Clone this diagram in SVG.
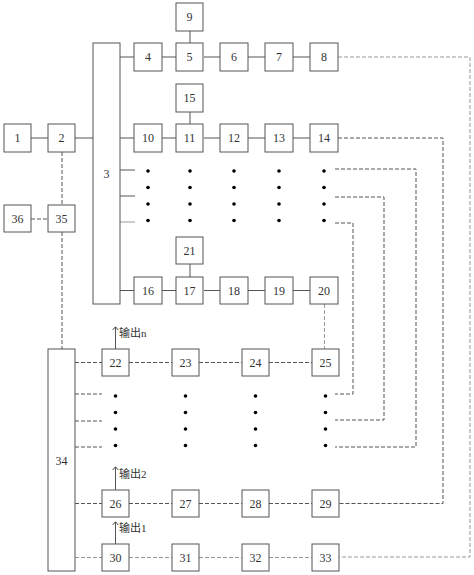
<svg xmlns="http://www.w3.org/2000/svg" width="474" height="575" viewBox="0 0 474 575">
<style>
.b{fill:#fff;stroke:#555;stroke-width:1}
.t{font-family:"Liberation Serif","Noto Sans CJK SC",serif;font-size:12px;fill:#333;text-anchor:middle;dominant-baseline:central}
.o{font-family:"Liberation Serif","Noto Sans CJK SC",serif;font-size:11px;fill:#333}
.s{stroke:#555;stroke-width:1;fill:none}
.d{stroke:#555;stroke-width:1;fill:none;stroke-dasharray:4 2}
.dl{stroke:#999;stroke-width:1;fill:none;stroke-dasharray:4 2}
.dot{fill:#000}
</style>
<defs>
<marker id="ah" viewBox="0 0 8 8" refX="4" refY="1" markerWidth="8" markerHeight="8" orient="0" markerUnits="userSpaceOnUse">
<path d="M1.2,4 L4,0.8 L6.8,4" fill="none" stroke="#444" stroke-width="1"/>
</marker>
</defs>
<rect width="474" height="575" fill="#fff"/>
<g id="connectors">
<path class="s" d="M31,138H48M75,138H93M120,57H134M162,57H176M204,57H220M248,57H265M293,57H310M190,31V43"/>
<path class="s" d="M120,138H134M162,138H176M204,138H220M248,138H265M293,138H310M190,112V124"/>
<path class="s" d="M120,290.5H134M162,290.5H176M204,290.5H220M248,290.5H265M293,290.5H310M190,264V277"/>
<path class="s" d="M120,170H135M120,196H135"/>
<path class="s" d="M120,222H135" style="stroke:#999"/>
<path class="d" d="M62,152V205M62,232V349"/>
<path class="d" d="M31,219H48"/>
<path class="dl" d="M338,57H470V557H339"/>
<path class="d" d="M338,138H443V503.5H339"/>
<path class="d" d="M335,169H416V447H335"/>
<path class="d" d="M335,197H384V420H335"/>
<path class="d" d="M335,223H353V394H335"/>
<path class="dl" d="M324.5,304V349"/>
<path class="d" d="M75,362.5H102M129,362.5H172M199,362.5H242M269,362.5H312"/>
<path class="d" d="M75,394H102M75,421H102M75,447H102"/>
<path class="d" d="M75,503.5H102M129,503.5H172M199,503.5H242M269,503.5H312"/>
<path class="dl" d="M75,557.5H102M129,557.5H172M199,557.5H242M269,557.5H312"/>
<path class="s" marker-end="url(#ah)" d="M115.5,349V327"/>
<path class="s" marker-end="url(#ah)" d="M115.5,490V467"/>
<path class="s" marker-end="url(#ah)" d="M115.5,544V522"/>
</g>
<g id="dots">
<g class="dot">
<circle cx="148" cy="171" r="1.8"/><circle cx="190" cy="171" r="1.8"/><circle cx="234" cy="171" r="1.8"/><circle cx="279" cy="171" r="1.8"/><circle cx="324" cy="171" r="1.8"/>
<circle cx="148" cy="187.5" r="1.8"/><circle cx="190" cy="187.5" r="1.8"/><circle cx="234" cy="187.5" r="1.8"/><circle cx="279" cy="187.5" r="1.8"/><circle cx="324" cy="187.5" r="1.8"/>
<circle cx="148" cy="204" r="1.8"/><circle cx="190" cy="204" r="1.8"/><circle cx="234" cy="204" r="1.8"/><circle cx="279" cy="204" r="1.8"/><circle cx="324" cy="204" r="1.8"/>
<circle cx="148" cy="220.5" r="1.8"/><circle cx="190" cy="220.5" r="1.8"/><circle cx="234" cy="220.5" r="1.8"/><circle cx="279" cy="220.5" r="1.8"/><circle cx="324" cy="220.5" r="1.8"/>
<circle cx="115.5" cy="396" r="1.8"/><circle cx="185.5" cy="396" r="1.8"/><circle cx="255.5" cy="396" r="1.8"/><circle cx="325.5" cy="396" r="1.8"/>
<circle cx="115.5" cy="412.5" r="1.8"/><circle cx="185.5" cy="412.5" r="1.8"/><circle cx="255.5" cy="412.5" r="1.8"/><circle cx="325.5" cy="412.5" r="1.8"/>
<circle cx="115.5" cy="429" r="1.8"/><circle cx="185.5" cy="429" r="1.8"/><circle cx="255.5" cy="429" r="1.8"/><circle cx="325.5" cy="429" r="1.8"/>
<circle cx="115.5" cy="445.5" r="1.8"/><circle cx="185.5" cy="445.5" r="1.8"/><circle cx="255.5" cy="445.5" r="1.8"/><circle cx="325.5" cy="445.5" r="1.8"/>
</g>
</g>
<g id="n1"><rect class="b" x="4" y="124" width="27" height="28"/><text class="t" x="17.5" y="138">1</text></g>
<g id="n2"><rect class="b" x="48" y="124" width="27" height="28"/><text class="t" x="61.5" y="138">2</text></g>
<g id="n3"><rect class="b" x="93" y="43" width="27" height="261"/><text class="t" x="106.5" y="174">3</text></g>
<g id="n4"><rect class="b" x="134" y="43" width="28" height="28"/><text class="t" x="148" y="57">4</text></g>
<g id="n5"><rect class="b" x="176" y="43" width="27" height="28"/><text class="t" x="189.5" y="57">5</text></g>
<g id="n6"><rect class="b" x="220" y="43" width="28" height="28"/><text class="t" x="234" y="57">6</text></g>
<g id="n7"><rect class="b" x="265" y="43" width="28" height="28"/><text class="t" x="279" y="57">7</text></g>
<g id="n8"><rect class="b" x="310" y="43" width="28" height="28"/><text class="t" x="324" y="57">8</text></g>
<g id="n9"><rect class="b" x="176" y="3" width="27" height="28"/><text class="t" x="189.5" y="17">9</text></g>
<g id="n10"><rect class="b" x="134" y="124" width="28" height="28"/><text class="t" x="148" y="138">10</text></g>
<g id="n11"><rect class="b" x="176" y="124" width="27" height="28"/><text class="t" x="189.5" y="138">11</text></g>
<g id="n12"><rect class="b" x="220" y="124" width="28" height="28"/><text class="t" x="234" y="138">12</text></g>
<g id="n13"><rect class="b" x="265" y="124" width="28" height="28"/><text class="t" x="279" y="138">13</text></g>
<g id="n14"><rect class="b" x="310" y="124" width="28" height="28"/><text class="t" x="324" y="138">14</text></g>
<g id="n15"><rect class="b" x="176" y="84" width="27" height="28"/><text class="t" x="189.5" y="98">15</text></g>
<g id="n16"><rect class="b" x="134" y="277" width="28" height="27"/><text class="t" x="148" y="290.5">16</text></g>
<g id="n17"><rect class="b" x="176" y="277" width="27" height="27"/><text class="t" x="189.5" y="290.5">17</text></g>
<g id="n18"><rect class="b" x="220" y="277" width="28" height="27"/><text class="t" x="234" y="290.5">18</text></g>
<g id="n19"><rect class="b" x="265" y="277" width="28" height="27"/><text class="t" x="279" y="290.5">19</text></g>
<g id="n20"><rect class="b" x="310" y="277" width="28" height="27"/><text class="t" x="324" y="290.5">20</text></g>
<g id="n21"><rect class="b" x="176" y="237" width="27" height="27"/><text class="t" x="189.5" y="250.5">21</text></g>
<g id="n22"><rect class="b" x="102" y="349" width="27" height="27"/><text class="t" x="115.5" y="362.5">22</text></g>
<g id="n23"><rect class="b" x="172" y="349" width="27" height="27"/><text class="t" x="185.5" y="362.5">23</text></g>
<g id="n24"><rect class="b" x="242" y="349" width="27" height="27"/><text class="t" x="255.5" y="362.5">24</text></g>
<g id="n25"><rect class="b" x="312" y="349" width="27" height="27"/><text class="t" x="325.5" y="362.5">25</text></g>
<g id="n26"><rect class="b" x="102" y="490" width="27" height="27"/><text class="t" x="115.5" y="503.5">26</text></g>
<g id="n27"><rect class="b" x="172" y="490" width="27" height="27"/><text class="t" x="185.5" y="503.5">27</text></g>
<g id="n28"><rect class="b" x="242" y="490" width="27" height="27"/><text class="t" x="255.5" y="503.5">28</text></g>
<g id="n29"><rect class="b" x="312" y="490" width="27" height="27"/><text class="t" x="325.5" y="503.5">29</text></g>
<g id="n30"><rect class="b" x="102" y="544" width="27" height="27"/><text class="t" x="115.5" y="557.5">30</text></g>
<g id="n31"><rect class="b" x="172" y="544" width="27" height="27"/><text class="t" x="185.5" y="557.5">31</text></g>
<g id="n32"><rect class="b" x="242" y="544" width="27" height="27"/><text class="t" x="255.5" y="557.5">32</text></g>
<g id="n33"><rect class="b" x="312" y="544" width="27" height="27"/><text class="t" x="325.5" y="557.5">33</text></g>
<g id="n34"><rect class="b" x="48" y="349" width="27" height="222"/><text class="t" x="61.5" y="461">34</text></g>
<g id="n35"><rect class="b" x="48" y="205" width="27" height="27"/><text class="t" x="61.5" y="218.5">35</text></g>
<g id="n36"><rect class="b" x="4" y="205" width="27" height="27"/><text class="t" x="17.5" y="218.5">36</text></g>
<g id="labels">
<text class="o" x="119" y="337">输出n</text>
<text class="o" x="119" y="478">输出2</text>
<text class="o" x="119" y="532">输出1</text>
</g>
</svg>
